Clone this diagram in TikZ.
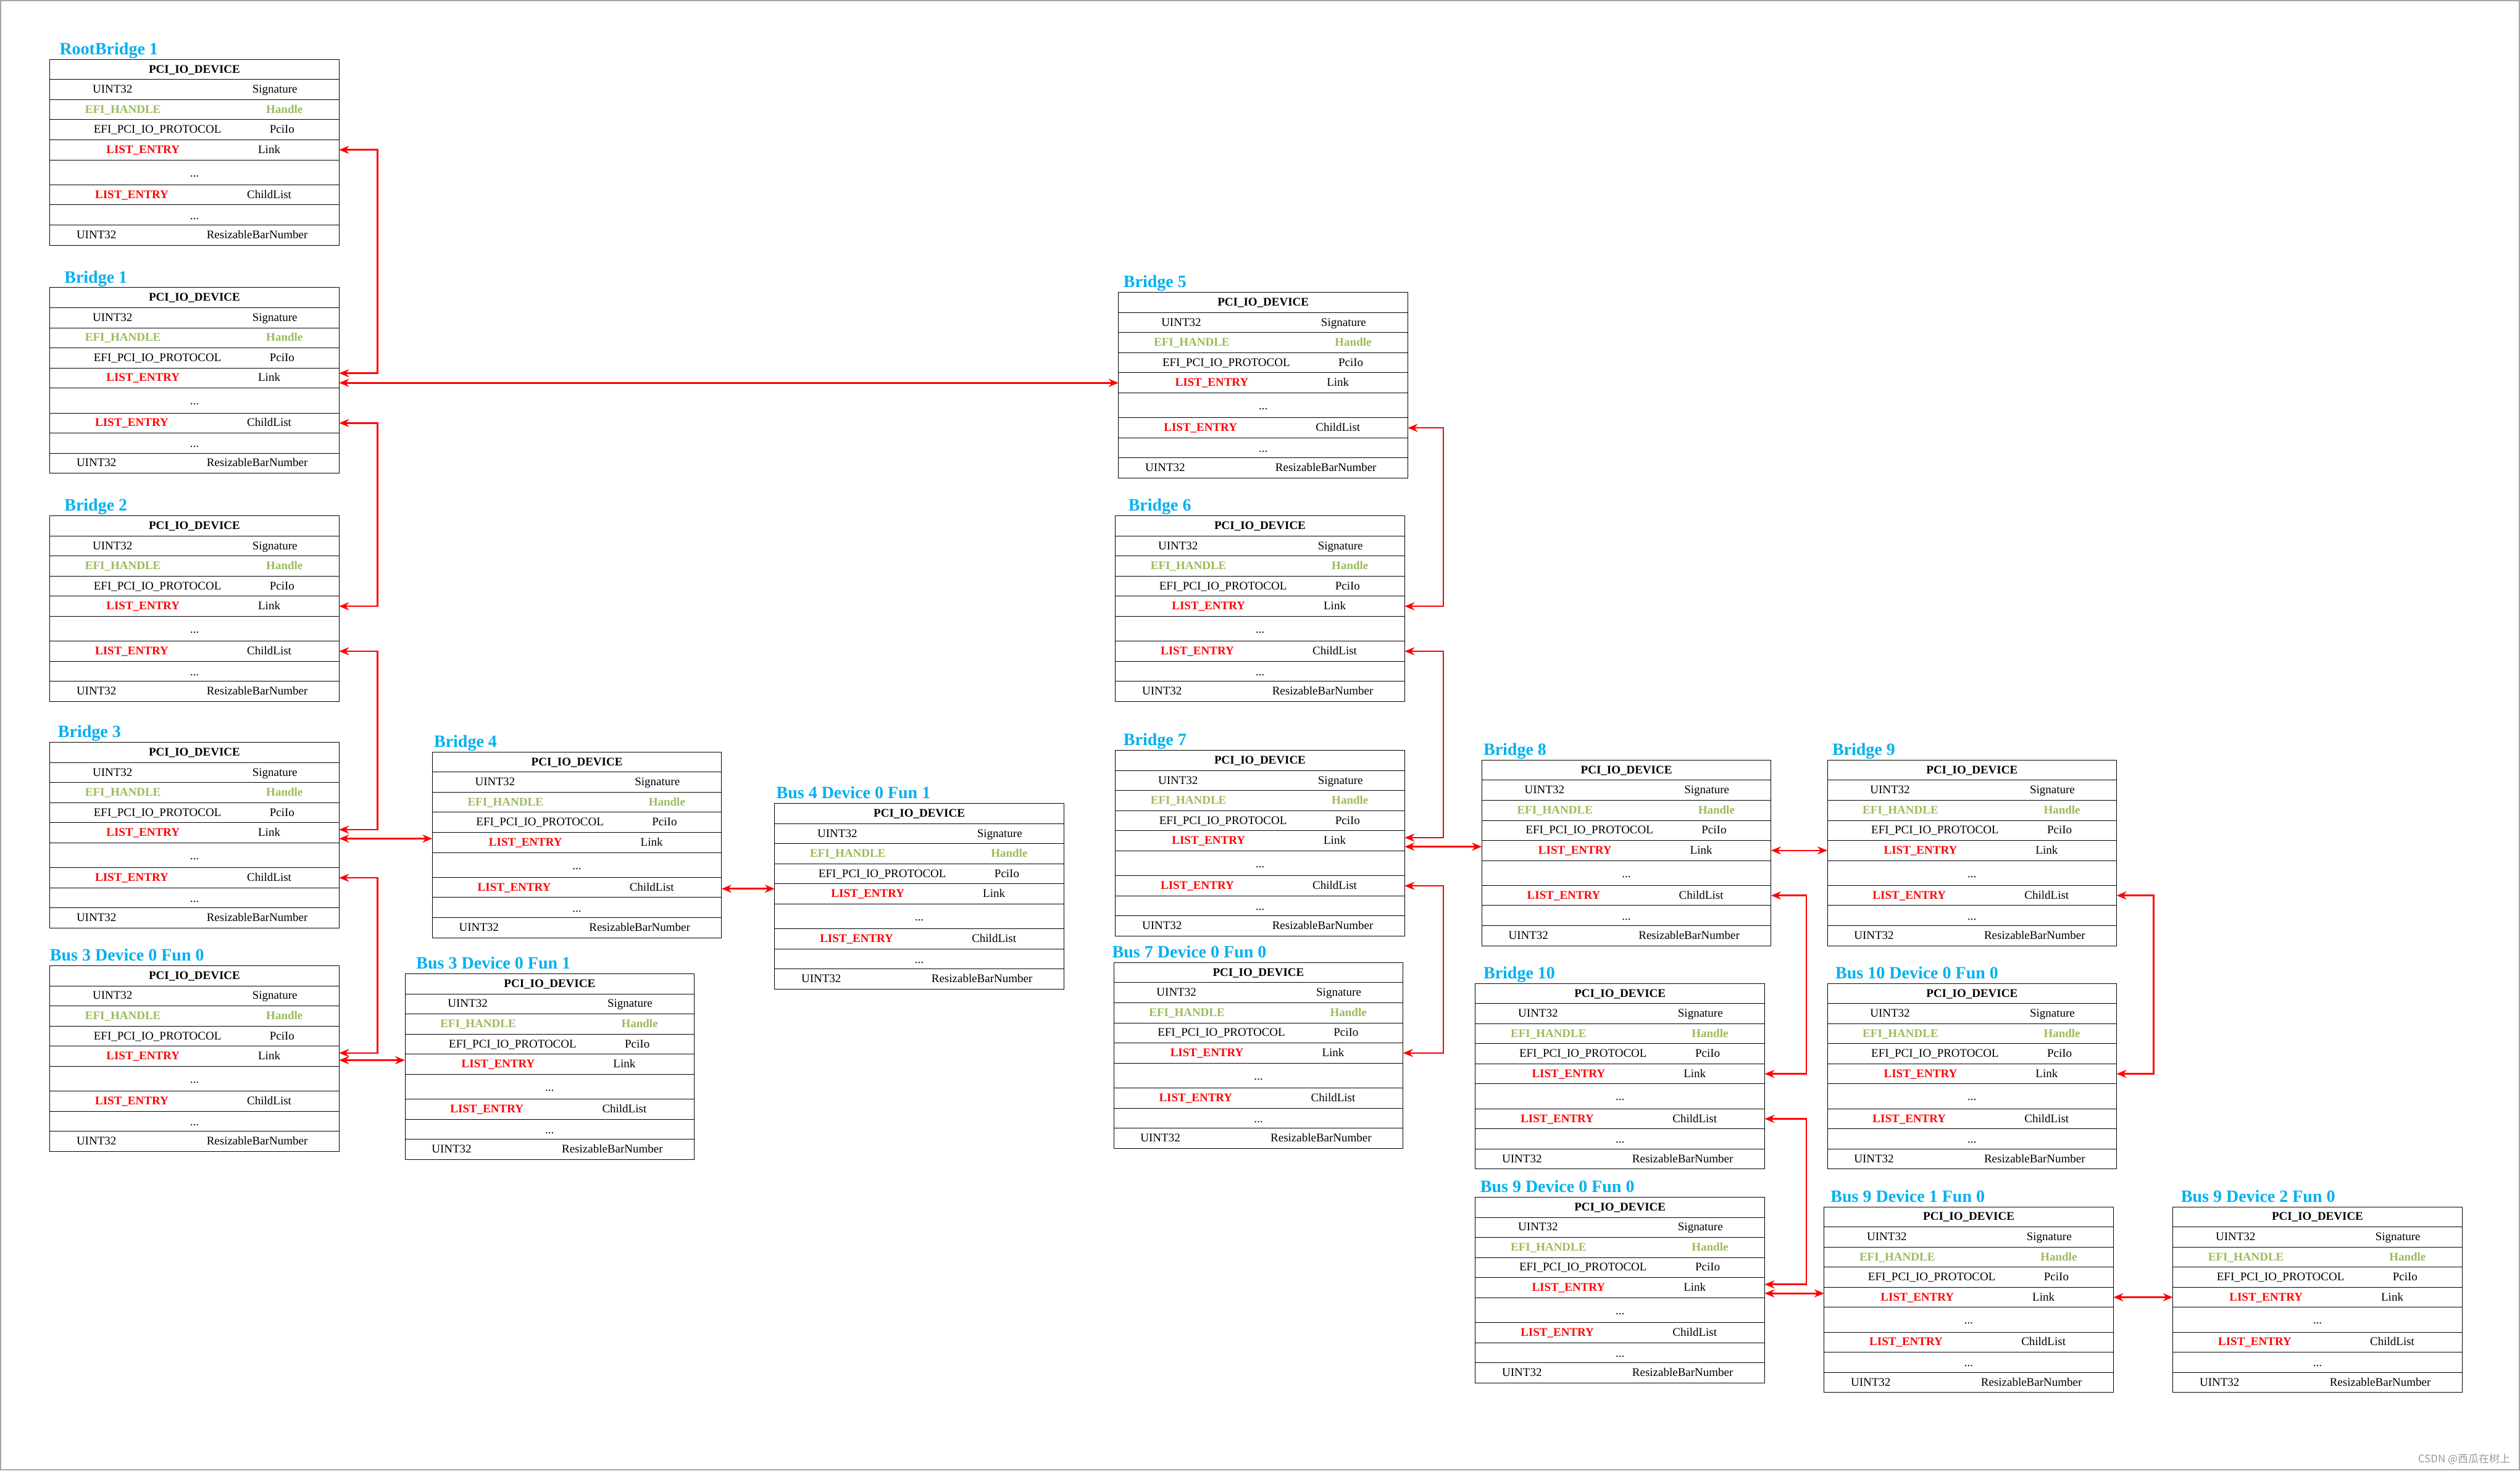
\documentclass[tikz,border=0pt]{standalone}
\usepackage{fontspec}
\setmainfont{Liberation Serif}
\newfontfamily\cjk{Noto Sans CJK SC}
\usetikzlibrary{arrows.meta,calc}
\definecolor{ttlblue}{RGB}{0,176,240}
\definecolor{hgreen}{RGB}{155,187,89}
\tikzset{
 tb/.style={draw=black,line width=1pt},
 ttl/.style={font=\fontsize{28}{30}\selectfont\bfseries,text=ttlblue,inner sep=0pt},
 rt/.style={font=\fontsize{19}{21}\selectfont,inner sep=0pt,anchor=mid},
 conn/.style={draw=red,line width=2.6pt,{Stealth[length=16pt,width=13pt]}-{Stealth[length=16pt,width=13pt]}},
}
\newcommand\pcit[5]{%
 \begin{scope}[shift={(#2,#3)}]
 \node[ttl,anchor=base west] (#1-t) at (#5,-3) {#4};
 \draw[tb] (0,0) rectangle (180,115.5);
 \foreach \yy in {12.5,25,37.5,50,62.5,78,90.5,103} \draw[tb] (0,\yy)--(180,\yy);
 \node[rt,font=\fontsize{19}{21}\selectfont\bfseries] (#1-h) at (90,7.5) {PCI\_IO\_DEVICE};
 \node[rt] (#1-r1a) at (39,20) {UINT32};
 \node[rt] (#1-r1b) at (140,20) {Signature};
 \node[rt,text=hgreen,font=\fontsize{19}{21}\selectfont\bfseries] (#1-r2a) at (45.5,32.5) {EFI\_HANDLE};
 \node[rt,text=hgreen,font=\fontsize{19}{21}\selectfont\bfseries] (#1-r2b) at (146,32.5) {Handle};
 \node[rt] (#1-r3a) at (67,45) {EFI\_PCI\_IO\_PROTOCOL};
 \node[rt] (#1-r3b) at (144.5,45) {PciIo};
 \node[rt,text=red,font=\fontsize{19}{21}\selectfont\bfseries] (#1-r4a) at (58,57.5) {LIST\_ENTRY};
 \node[rt] (#1-r4b) at (136.5,57.5) {Link};
 \node[rt] (#1-r5) at (90,72) {...};
 \node[rt,text=red,font=\fontsize{19}{21}\selectfont\bfseries] (#1-r6a) at (51,85.5) {LIST\_ENTRY};
 \node[rt] (#1-r6b) at (136.5,85.5) {ChildList};
 \node[rt] (#1-r7) at (90,98.5) {...};
 \node[rt] (#1-r8a) at (29,110.5) {UINT32};
 \node[rt] (#1-r8b) at (129,110.5) {ResizableBarNumber};
 \coordinate (#1-l) at (180,56.25);
 \coordinate (#1-lw) at (0,56.25);
 \coordinate (#1-c) at (180,84.25);
 \coordinate (#1-cw) at (0,84.25);
 \end{scope}}
\begin{document}
\begin{tikzpicture}[x=2.6033pt,y=-2.6033pt]
\useasboundingbox (0,0) rectangle (1568,915);
\draw[draw=gray!70,line width=2pt] (0.5,0.5) rectangle (1567.5,914.5);
\pcit{rb}{31}{37}{RootBridge 1}{6}
\pcit{b1}{31}{179}{Bridge 1}{9}
\pcit{b2}{31}{321}{Bridge 2}{9}
\pcit{b3}{31}{462}{Bridge 3}{5}
\pcit{d30}{31}{601}{Bus 3 Device 0 Fun 0}{0}
\pcit{d31}{252}{606}{Bus 3 Device 0 Fun 1}{7}
\pcit{b4}{269}{468}{Bridge 4}{1}
\pcit{d41}{482}{500}{Bus 4 Device 0 Fun 1}{1}
\pcit{b5}{696}{182}{Bridge 5}{3}
\pcit{b6}{694}{321}{Bridge 6}{8}
\pcit{b7}{694}{467}{Bridge 7}{5}
\pcit{d70}{693}{599}{Bus 7 Device 0 Fun 0}{-1}
\pcit{b8}{922}{473}{Bridge 8}{1}
\pcit{b9}{1137}{473}{Bridge 9}{3}
\pcit{b10}{918}{612}{Bridge 10}{5}
\pcit{d100}{1137}{612}{Bus 10 Device 0 Fun 0}{5}
\pcit{d90}{918}{745}{Bus 9 Device 0 Fun 0}{3}
\pcit{d91}{1135}{751}{Bus 9 Device 1 Fun 0}{4}
\pcit{d92}{1352}{751}{Bus 9 Device 2 Fun 0}{5}
\coordinate (xa) at (235,0);
\coordinate (xb) at (898,0);
\coordinate (xc) at (1124,0);
\coordinate (xd) at (1340,0);
% vertical links
\draw[conn] (rb-l) -- (rb-l -| xa) -- ($(b1-l -| xa)+(0,-3)$) -- ($(b1-l)+(0,-3)$);
\draw[conn] (b1-c) -- (b1-c -| xa) -- (b2-l -| xa) -- (b2-l);
\draw[conn] (b2-c) -- (b2-c -| xa) -- ($(b3-l -| xa)+(0,-2)$) -- ($(b3-l)+(0,-2)$);
\draw[conn] (b3-c) -- (b3-c -| xa) -- ($(d30-l -| xa)+(0,-2)$) -- ($(d30-l)+(0,-2)$);
\draw[conn] (b5-c) -- (b5-c -| xb) -- (b6-l -| xb) -- (b6-l);
\draw[conn] (b6-c) -- (b6-c -| xb) -- ($(b7-l -| xb)+(0,-2)$) -- ($(b7-l)+(0,-2)$);
\draw[conn] (b7-c) -- (b7-c -| xb) -- (d70-l -| xb) -- (d70-l);
\draw[conn] (b8-c) -- (b8-c -| xc) -- (b10-l -| xc) -- (b10-l);
\draw[conn] (b10-c) -- (b10-c -| xc) -- ($(d90-l -| xc)+(0,-2)$) -- ($(d90-l)+(0,-2)$);
\draw[conn] (b9-c) -- (b9-c -| xd) -- (d100-l -| xd) -- (d100-l);
% horizontal links
\draw[conn] (b1-l |- b5-lw) -- (b5-lw);
\coordinate (m1) at ($(b3-l)!.6!(b4-lw)$);
\draw[conn] (b3-l |- m1) -- (b4-lw |- m1);
\coordinate (m2) at ($(d30-l)!.5!(d31-lw)$);
\draw[conn] (d30-l |- m2) -- (d31-lw |- m2);
\coordinate (m3) at ($(b4-c)!.2!(d41-lw)$);
\draw[conn] (b4-c |- m3) -- (d41-lw |- m3);
\coordinate (m4) at ($(b7-l)!.6!(b8-lw)$);
\draw[conn] (b7-l |- m4) -- (b8-lw |- m4);
\draw[conn] (b8-l) -- (b9-lw);
\coordinate (m5) at ($(d90-l)!.6!(d91-lw)$);
\draw[conn] (d90-l |- m5) -- (d91-lw |- m5);
\draw[conn] (d91-l) -- (d92-lw);
\node[anchor=east,inner sep=0pt,text=gray!80,font=\cjk\fontsize{17}{19}\selectfont] (wm) at (1562,908) {CSDN @西瓜在树上};
\end{tikzpicture}
\end{document}
